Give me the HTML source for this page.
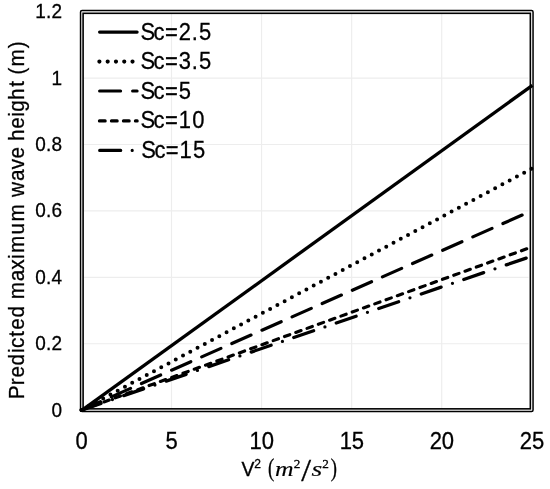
<!DOCTYPE html>
<html><head><meta charset="utf-8"><title>chart</title>
<style>
html,body{margin:0;padding:0;background:#fff;}
svg{display:block;}
text{font-family:"Liberation Sans",sans-serif;fill:#000;stroke:#000;stroke-width:0.3px;}
.it{font-family:"Liberation Serif",serif;font-style:italic;stroke-width:0.15px;}
.se{font-family:"Liberation Serif",serif;}
</style></head><body>
<svg width="550" height="489" viewBox="0 0 550 489">
<rect x="0" y="0" width="550" height="489" fill="#fff"/>
<g stroke="#ededed" stroke-width="1.15" fill="none">
<line x1="171.48" y1="13" x2="171.48" y2="409"/>
<line x1="261.56" y1="13" x2="261.56" y2="409"/>
<line x1="351.64" y1="13" x2="351.64" y2="409"/>
<line x1="441.72" y1="13" x2="441.72" y2="409"/>
<line x1="84" y1="343.70" x2="528.5" y2="343.70"/>
<line x1="84" y1="277.30" x2="528.5" y2="277.30"/>
<line x1="84" y1="210.90" x2="528.5" y2="210.90"/>
<line x1="84" y1="144.50" x2="528.5" y2="144.50"/>
<line x1="84" y1="78.10" x2="528.5" y2="78.10"/>
</g>
<g fill="none" stroke="#000" stroke-linecap="round">
<line x1="81.4" y1="410.70000000000005" x2="532.4" y2="85.3" stroke-width="3.3" stroke-linecap="butt"/>
<line x1="81.4" y1="410.1" x2="531.8" y2="168.6" stroke-width="4.0" stroke-dasharray="0 8.236"/>
<line x1="81.4" y1="410.1" x2="531.8" y2="210.8" stroke-width="3.2" stroke-dasharray="21 11.94" stroke-dashoffset="0.2"/>
<line x1="81.4" y1="410.1" x2="531.8" y2="247.0" stroke-width="3.15" stroke-dasharray="5.6 6.4" stroke-dashoffset="0"/>
<line x1="81.4" y1="410.1" x2="531.8" y2="256.2" stroke-width="3.3" stroke-dasharray="21 11.96 0 11.96" stroke-dashoffset="0.2"/>
</g>
<rect x="80.55" y="10.6" width="452.5" height="400.95" rx="1.5" fill="none" stroke="#000" stroke-width="1.5"/>
<rect x="83.1" y="13.3" width="447.25" height="395.55" fill="none" stroke="#000" stroke-width="1.6"/>
<g fill="none" stroke="#000" stroke-linecap="round">
<line x1="99.6" y1="32.1" x2="137.1" y2="32.1" stroke-width="3.2"/>
<line x1="99.4" y1="61.6" x2="138.6" y2="61.6" stroke-width="4.2" stroke-dasharray="0 8.28"/>
<line x1="99.6" y1="91.0" x2="137.1" y2="91.0" stroke-width="3.1" stroke-dasharray="21 12"/>
<line x1="99.4" y1="120.9" x2="137.2" y2="120.9" stroke-width="3.1" stroke-dasharray="5.8 6.2"/>
<line x1="99.7" y1="150.4" x2="137" y2="150.4" stroke-width="3.2" stroke-dasharray="21 11.5 0 12"/>
</g>
<text transform="translate(141.20,39.80) scale(0.9,1)" x="7.36 19.88 33.53 48.41 59.66 70.91" y="0" font-size="24.4" text-anchor="middle">Sc=2.5</text>
<text transform="translate(141.20,69.20) scale(0.9,1)" x="7.36 19.88 33.53 48.41 59.66 70.91" y="0" font-size="24.4" text-anchor="middle">Sc=3.5</text>
<text transform="translate(141.20,98.80) scale(0.9,1)" x="7.36 19.88 33.53 48.41" y="0" font-size="24.4" text-anchor="middle">Sc=5</text>
<text transform="translate(141.20,128.10) scale(0.9,1)" x="7.36 19.88 33.53 48.41 63.43" y="0" font-size="24.4" text-anchor="middle">Sc=10</text>
<text transform="translate(142.00,157.90) scale(0.9,1)" x="7.36 19.88 33.53 48.41 63.43" y="0" font-size="24.4" text-anchor="middle">Sc=15</text>
<text transform="translate(62.20,416.60) scale(0.95,1)" x="-5.69" y="0" font-size="20.0" text-anchor="middle">0</text>
<text transform="translate(62.20,350.20) scale(0.95,1)" x="-22.74 -14.21 -5.69" y="0" font-size="20.0" text-anchor="middle">0.2</text>
<text transform="translate(62.20,283.80) scale(0.95,1)" x="-22.74 -14.21 -5.69" y="0" font-size="20.0" text-anchor="middle">0.4</text>
<text transform="translate(62.20,217.40) scale(0.95,1)" x="-22.74 -14.21 -5.69" y="0" font-size="20.0" text-anchor="middle">0.6</text>
<text transform="translate(62.20,151.00) scale(0.95,1)" x="-22.74 -14.21 -5.69" y="0" font-size="20.0" text-anchor="middle">0.8</text>
<text transform="translate(62.20,84.60) scale(0.95,1)" x="-5.69" y="0" font-size="20.0" text-anchor="middle">1</text>
<text transform="translate(62.20,18.20) scale(0.95,1)" x="-22.74 -14.21 -5.69" y="0" font-size="20.0" text-anchor="middle">1.2</text>
<text transform="translate(81.60,448.60) scale(0.95,1)" x="0.00" y="0" font-size="23.2" text-anchor="middle">0</text>
<text transform="translate(171.68,448.60) scale(0.95,1)" x="0.00" y="0" font-size="23.2" text-anchor="middle">5</text>
<text transform="translate(261.76,448.60) scale(0.95,1)" x="-6.40 6.40" y="0" font-size="23.2" text-anchor="middle">10</text>
<text transform="translate(351.84,448.60) scale(0.95,1)" x="-6.40 6.40" y="0" font-size="23.2" text-anchor="middle">15</text>
<text transform="translate(441.92,448.60) scale(0.95,1)" x="-6.40 6.40" y="0" font-size="23.2" text-anchor="middle">20</text>
<text transform="translate(532.00,448.60) scale(0.95,1)" x="-6.40 6.40" y="0" font-size="23.2" text-anchor="middle">25</text>
<text transform="translate(24.30,398.40) rotate(-90) scale(0.95,1)" x="6.49 17.35 27.96 40.78 50.25 58.42 67.92 78.36 91.19 100.61 113.46 129.48 140.91 149.22 162.11 178.71 195.31 208.16 219.96 234.92 246.59 258.49 267.56 276.99 289.81 298.93 307.70 320.19 330.98 338.01 344.65 358.46 372.28" y="0" font-size="21.8" text-anchor="middle">Predicted maximum wave height (m)</text>
<text x="241.6" y="475.6" font-size="19.4"><tspan x="241.6" y="475.6">V</tspan><tspan x="254.2" y="468.4" font-size="12">2</tspan><tspan x="261" y="475.6" font-size="12"> </tspan><tspan x="268" y="476.2" font-size="26" class="se" textLength="6.23" lengthAdjust="spacingAndGlyphs">(</tspan><tspan x="275" y="475.6" font-size="21" class="it" textLength="18.6" lengthAdjust="spacingAndGlyphs">m</tspan><tspan x="293.8" y="468" font-size="13.2" class="se">2</tspan><tspan x="301.2" y="481.2" font-size="32" class="se" textLength="9.8" lengthAdjust="spacingAndGlyphs">/</tspan><tspan x="311.4" y="475.6" font-size="21" class="it" textLength="10.8" lengthAdjust="spacingAndGlyphs">s</tspan><tspan x="322.2" y="468" font-size="13.2" class="se">2</tspan><tspan x="330.8" y="476.2" font-size="26" class="se" textLength="6.23" lengthAdjust="spacingAndGlyphs">)</tspan></text>
</svg>
</body></html>
